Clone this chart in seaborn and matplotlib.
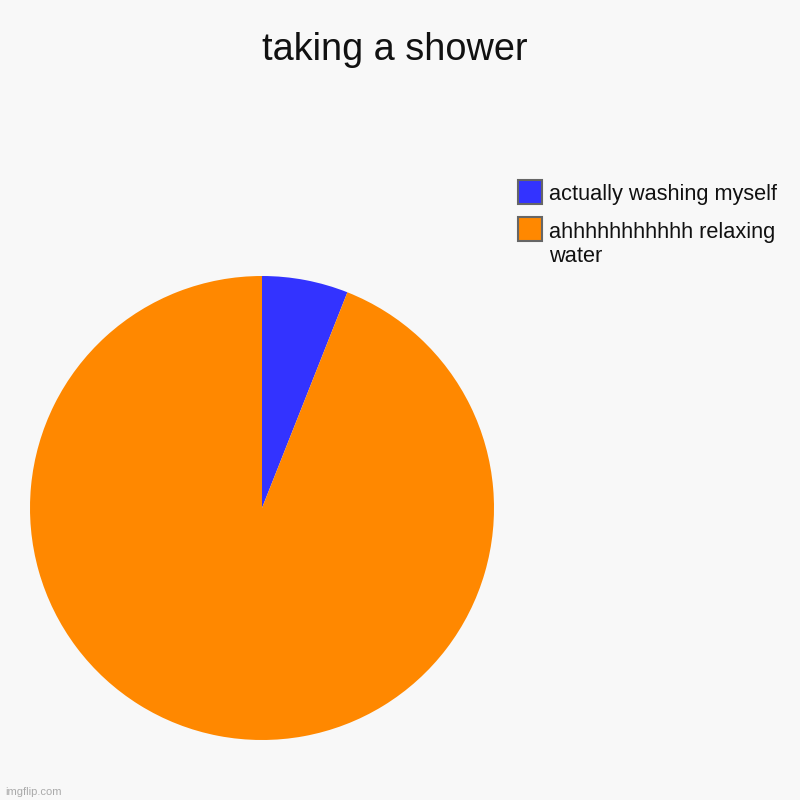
import matplotlib
matplotlib.use("Agg")
import matplotlib.pyplot as plt
import matplotlib.patches as mpatches
import seaborn as sns

# Data
labels = ["actually washing myself", "ahhhhhhhhhhh relaxing\nwater"]
values = [6, 94]
colors = ["#3333ff", "#ff8800"]

sns.set_theme(style="white")
plt.rcParams['font.family'] = ['Liberation Sans', 'DejaVu Sans']

bg = "#f8f8f8"
W = H = 800
fig = plt.figure(figsize=(8, 8), dpi=100, facecolor=bg)

# pie axes
ax = fig.add_axes([0.0375, 0.075, 0.58, 0.58])
ax.set_facecolor(bg)
ax.pie(values, colors=colors, startangle=90, counterclock=False,
       wedgeprops=dict(linewidth=0))
ax.set_xlim(-1, 1)
ax.set_ylim(-1, 1)
ax.set_aspect("equal")
ax.axis("off")

fig.text(0.494, 0.937, "taking a shower", ha="center", va="center",
         fontsize=27.3, color="#111111")

# legend, drawn by hand so the swatch sits on the first text line
box_x, box_size, row_top, row_step, line_h = 518, 24, 180, 37, 25
for i, (c, lab) in enumerate(zip(colors, labels)):
    top = row_top + i * row_step
    rect = mpatches.Rectangle((box_x / W, 1 - (top + box_size) / H),
                              box_size / W, box_size / H,
                              transform=fig.transFigure, facecolor=c,
                              edgecolor="#666666", linewidth=1.5)
    fig.add_artist(rect)
    # va="baseline" pins the last line, so push down for wrapped labels
    extra = lab.count("\n") * line_h
    fig.text(549 / W, 1 - (top + 20 + extra) / H, lab, ha="left",
             va="baseline", fontsize=15.7, color="#111111", linespacing=1.2)

fig.text(0.006, 0.004, "imgflip.com", fontsize=8, color="#aaaaaa",
         ha="left", va="bottom")

fig.savefig("out.png", dpi=100, facecolor=bg)
